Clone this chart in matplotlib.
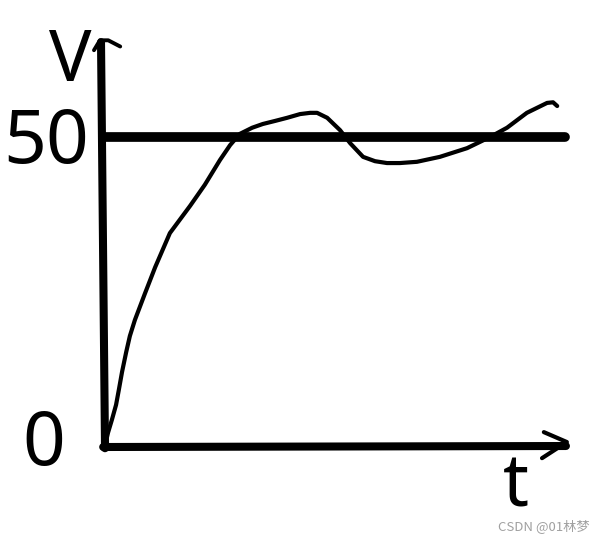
import matplotlib.pyplot as plt

plt.rcParams['font.family'] = ['Noto Sans', 'DejaVu Sans']

# step response sketch: time t (arbitrary units) vs V
t = [0.0, 0.065, 0.15, 0.24, 0.30, 0.37, 0.46, 0.54, 0.65, 0.87, 1.09, 1.41,
     1.85, 2.17, 2.50, 2.72, 2.93, 3.20, 3.43, 3.70, 3.96, 4.24, 4.46, 4.61,
     4.83, 5.11, 5.33, 5.61, 5.87, 6.13, 6.41, 6.78, 7.28, 7.87, 8.37, 8.74,
     9.17, 9.61, 9.74, 9.83]
v = [0.2, 2.3, 4.4, 6.8, 9.2, 12.1, 15.3, 17.9, 20.5, 24.8, 29.0, 34.5,
     38.9, 42.3, 46.3, 48.7, 50.5, 51.5, 52.1, 52.6, 53.1, 53.7, 53.9, 53.9,
     53.1, 51.1, 49.0, 46.8, 46.1, 45.8, 45.8, 46.0, 46.8, 48.2, 50.0, 51.5,
     53.9, 55.5, 55.6, 55.0]

target = 50
target_t = [0.0, 10.0]

# hand drawn axes
yaxis_t = [0.0, -0.087]
yaxis_v = [-0.2, 65.3]
yhead_t = [-0.24, -0.11, 0.07, 0.33]
yhead_v = [64.0, 65.6, 65.6, 64.6]
xaxis_t = [-0.04, 10.02]
xaxis_v = [0.0, 0.16]
xhead_t = [9.54, 10.04, 9.50]
xhead_v = [2.4, 0.8, -1.8]

fig = plt.figure(figsize=(6.06, 5.37), dpi=100)
ax = fig.add_axes([0, 0, 1, 1])
ax.set_xlim(-2.283, 10.891)
ax.set_ylim(-14.516, 72.10)
ax.axis('off')

ax.plot(yaxis_t, yaxis_v, color='black', lw=5.8, solid_capstyle='round')
ax.plot(yhead_t, yhead_v, color='black', lw=2.8, solid_capstyle='round')
ax.plot(xaxis_t, xaxis_v, color='black', lw=5.8, solid_capstyle='round')
ax.plot(xhead_t, xhead_v, color='black', lw=3.0, solid_capstyle='round',
        solid_joinstyle='round')
ax.plot(target_t, [target, target], color='black', lw=7.0, solid_capstyle='round')
ax.plot(t, v, color='black', lw=3.0, solid_capstyle='round', solid_joinstyle='round')

ax.text(-0.76, 62.0, 'V', fontsize=51, ha='center', va='center')
ax.text(-1.28, 49.0, '50', fontsize=54, ha='center', va='center')
ax.text(-1.33, 0.3, '0', fontsize=54, ha='center', va='center')
ax.text(8.93, -6.6, 't', fontsize=52, ha='center', va='center')
ax.text(10.54, -12.7, 'CSDN @01林梦', fontsize=9.5, color='#a0a0a0', ha='right',
        va='center', family=['Noto Sans CJK SC', 'DejaVu Sans'])

fig.savefig('out.png', dpi=100)
